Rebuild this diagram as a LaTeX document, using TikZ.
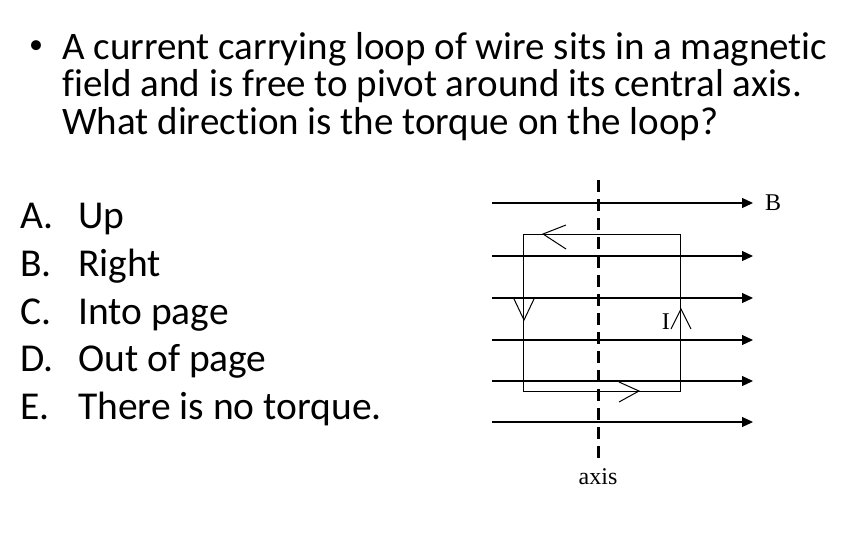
\documentclass[tikz,border=0pt]{standalone}
\usepackage{fontspec}
\usetikzlibrary{arrows.meta}
\setmainfont[Ligatures=NoCommon]{Carlito}
\newfontfamily\serifB{Liberation Serif}
\begin{document}
\begin{tikzpicture}[x=1pt,y=-1pt,
  txt/.style={anchor=base west,inner sep=0pt,font=\fontsize{39}{37}\selectfont},
  ans/.style={anchor=base west,inner sep=0pt,font=\fontsize{39.5}{36}\selectfont},
  fld/.style={line width=1.2pt,-{Triangle[length=11pt,width=10pt]}},
  wire/.style={line width=1pt},
  lbl/.style={inner sep=0pt,font=\serifB\fontsize{24}{26}\selectfont}]
\useasboundingbox (0,0) rectangle (866,549);
\node[inner sep=0pt,font=\fontsize{28}{30}\selectfont] (bul) at (36,47) {•};
\node[txt] (q1) at (62,59) {A current carrying loop of wire sits in a magnetic};
\node[txt] (q2) at (62,96) {field and is free to pivot around its central axis.};
\node[txt] (q3) at (62,134) {What direction is the torque on the loop?};
\node[ans] (a1) at (20,228) {A.};
\node[ans] (t1) at (78,228) {Up};
\node[ans] (a2) at (20,276) {B.};
\node[ans] (t2) at (78,276) {Right};
\node[ans] (a3) at (20,324) {C.};
\node[ans] (t3) at (78,324) {Into page};
\node[ans] (a4) at (20,371) {D.};
\node[ans] (t4) at (78,371) {Out of page};
\node[ans] (a5) at (20,419) {E.};
\node[ans] (t5) at (78,419) {There is no torque.};
% axis
\coordinate (ax1) at (598,180);
\coordinate (ax2) at (598,464);
\draw[line width=3pt,dash pattern=on 12pt off 7pt] (ax1) -- (ax2);
\node[lbl,anchor=center] (axl) at (598,477) {axis};
% loop
\draw[wire] (523,234) rectangle (680,391);
% field lines
\foreach \yy/\nm in {203/f1,256/f2,298/f3,340/f4,381/f5,422/f6}{
  \coordinate (\nm s) at (492,\yy);
  \coordinate (\nm e) at (753,\yy);
  \draw[fld] (\nm s) -- (\nm e);
}
\node[lbl,anchor=west] (B) at (765,203) {B};
\node[lbl,anchor=east] (I) at (670,322) {I};
% chevrons
\draw[wire] (566,225) -- (543,234) -- (566,249);
\draw[wire] (514,299) -- (524,320) -- (534,299);
\draw[wire] (671,329) -- (681,309) -- (691,329);
\draw[wire] (619,382) -- (639,391) -- (619,402);
\end{tikzpicture}
\end{document}
